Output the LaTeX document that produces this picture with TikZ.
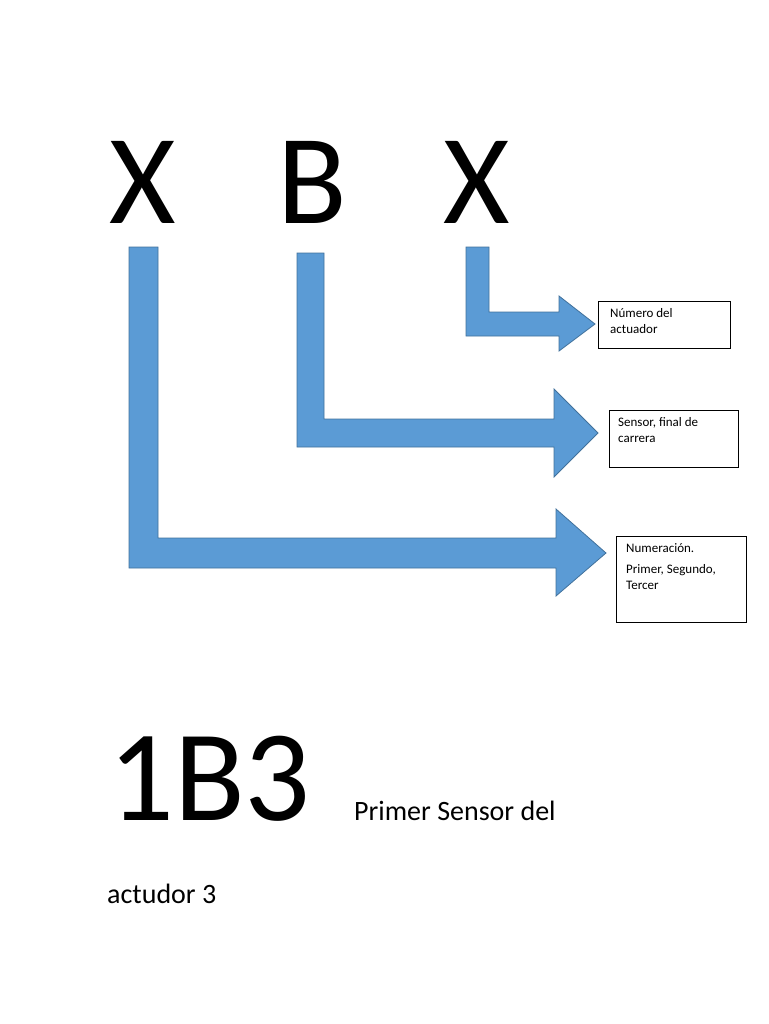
\documentclass[tikz,border=0pt]{standalone}
\usepackage{fontspec}
\setmainfont{Carlito}
\definecolor{af}{HTML}{5B9BD5}
\definecolor{ad}{HTML}{41719C}
\begin{document}
\begin{tikzpicture}[x=1pt,y=-1pt,
  arr/.style={fill=af,draw=ad,line width=0.8pt,line join=miter},
  lbl/.style={draw=black,line width=0.7pt,inner sep=0pt,anchor=north west},
  btxt/.style={font=\fontsize{13}{16}\selectfont,align=left,anchor=north west,inner sep=0pt}]
\useasboundingbox (0,0) rectangle (768,1024);
\node[font=\fontsize{128}{128}\selectfont,anchor=base] (x1) at (143,224) {X};
\node[font=\fontsize{128}{128}\selectfont,anchor=base] (b) at (312,224) {B};
\node[font=\fontsize{128}{128}\selectfont,anchor=base] (x2) at (477,224) {X};
% arrows
\draw[arr] (466,247) -- (489,247) -- (489,312) -- (559,312) -- (559,296) -- (595,324) -- (559,351) -- (559,336) -- (466,336) -- cycle;
\draw[arr] (297,253) -- (324,253) -- (324,419) -- (554,419) -- (554,389) -- (598,433) -- (554,477) -- (554,447) -- (297,447) -- cycle;
\draw[arr] (129,247) -- (158,247) -- (158,538) -- (556,538) -- (556,509) -- (606,553) -- (556,596) -- (556,568) -- (129,568) -- cycle;
% boxes
\draw[line width=0.7pt] (598,301) rectangle (730,348);
\node[btxt] (t1) at (610,308) {Número del\\actuador};
\draw[line width=0.7pt] (609,410) rectangle (738,467);
\node[btxt] (t2) at (618,417) {Sensor, final de\\carrera};
\draw[line width=0.7pt] (616,536) rectangle (746,622);
\node[btxt] (t3) at (626,543) {Numeración.\\[5pt]Primer, Segundo,\\Tercer};
% bottom text
\node[font=\fontsize{130}{130}\selectfont,anchor=base west,inner sep=0pt] (n) at (108,820) {1B3};
\node[font=\fontsize{28}{28}\selectfont,anchor=base west,inner sep=0pt] (p) at (354,820) {Primer Sensor del};
\node[font=\fontsize{28}{28}\selectfont,anchor=base west,inner sep=0pt] (a) at (107,903) {actudor 3};
\end{tikzpicture}
\end{document}
